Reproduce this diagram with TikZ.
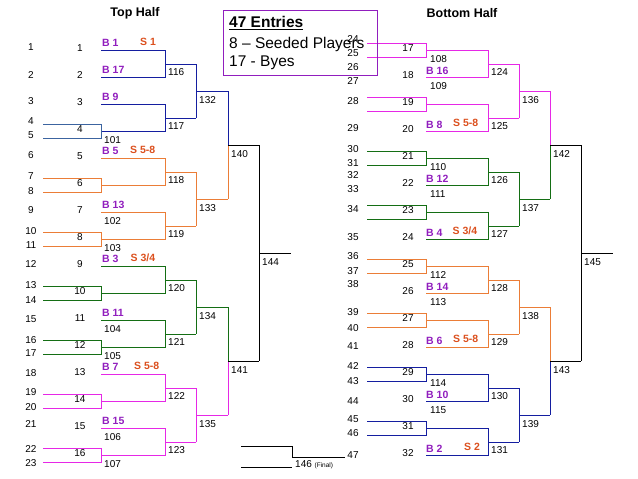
\documentclass[tikz,border=0pt]{standalone}
\usepackage{fontspec}
\setmainfont{Liberation Sans}
\begin{document}
\definecolor{kb}{RGB}{20,30,160}
\definecolor{kbb}{RGB}{60,100,160}
\definecolor{ko}{RGB}{235,125,55}
\definecolor{kg}{RGB}{20,110,20}
\definecolor{km}{RGB}{230,40,230}
\definecolor{kp}{RGB}{145,30,190}
\definecolor{ks}{RGB}{220,80,30}
\begin{tikzpicture}[x=1pt,y=-1pt,
  lbl/.style={font=\fontsize{10}{11}\selectfont,inner sep=0pt},
  wl/.style={lbl,anchor=west},
  bl/.style={font=\fontsize{10.5}{11}\selectfont\bfseries,text=kp,inner sep=0pt,anchor=west},
  sl/.style={font=\fontsize{10.5}{11}\selectfont\bfseries,text=ks,inner sep=0pt},
  br/.style={line width=0.9pt}]
\useasboundingbox (0,0) rectangle (638,479);
\fill[white] (0,0) rectangle (638,479);
% titles
\node[font=\fontsize{12.5}{14}\selectfont\bfseries] (th) at (135,13) {Top Half};
\node[font=\fontsize{12.5}{14}\selectfont\bfseries] (bh) at (462,13) {Bottom Half};
\foreach \half/\xa/\xb/\xc/\xd/\xe/\xf/\cA/\cB/\cC/\cD in
  {0/101/165/196/228/259/291/kb/ko/kg/km, 1/426/488/519/550/581/613/km/kg/ko/kb}{
  \foreach \g/\col in {0/\cA,1/\cB,2/\cC,3/\cD}{
    \foreach \p in {0,1}{
      \pgfmathsetmacro\ya{50.7+27*(4*\g+2*\p)}
      \pgfmathsetmacro\yb{50.7+27*(4*\g+2*\p+1)}
      \pgfmathsetmacro\ym{(\ya+\yb)/2}
      \draw[br,color=\col] (\xa,\ya) -- (\xb,\ya) -- (\xb,\yb) -- (\xa,\yb);
      \draw[br,color=\col] (\xb,\ym) -- (\xc,\ym);
    }
    \pgfmathsetmacro\ya{50.7+27*(4*\g+0.5)}
    \pgfmathsetmacro\yb{50.7+27*(4*\g+2.5)}
    \pgfmathsetmacro\ym{(\ya+\yb)/2}
    \draw[br,color=\col] (\xc,\ya) -- (\xc,\yb);
    \draw[br,color=\col] (\xc,\ym) -- (\xd,\ym);
  }
  \foreach \h/\ca/\cc in {0/\cA/\cB,1/\cC/\cD}{
    \pgfmathsetmacro\ya{50.7+27*(8*\h+1.5)}
    \pgfmathsetmacro\yb{50.7+27*(8*\h+5.5)}
    \pgfmathsetmacro\ym{(\ya+\yb)/2}
    \draw[br,color=\ca] (\xd,\ya) -- (\xd,\ym);
    \draw[br,color=\cc] (\xd,\ym) -- (\xd,\yb);
    \draw[br,black] (\xd,\ym) -- (\xe,\ym);
  }
  \pgfmathsetmacro\ya{50.7+27*3.5}
  \pgfmathsetmacro\yb{50.7+27*11.5}
  \pgfmathsetmacro\ym{(\ya+\yb)/2}
  \draw[br,black] (\xe,\ya) -- (\xe,\yb);
  \draw[br,black] (\xe,\ym) -- (\xf,\ym);
}
% pre-round brackets left
\foreach \k/\col in {3/kbb,5/ko,7/ko,9/kg,11/kg,13/km,15/km}{
  \pgfmathsetmacro\y{50.7+27*\k}
  \draw[br,color=\col] (43,\y-7) -- (101,\y-7) -- (101,\y+7) -- (43,\y+7);
}
% pre-round brackets right
\foreach \k/\col in {0/km,2/km,4/kg,6/kg,8/ko,10/ko,12/kb,14/kb}{
  \pgfmathsetmacro\y{50.7+27*\k}
  \draw[br,color=\col] (367,\y-7) -- (426,\y-7) -- (426,\y+7) -- (367,\y+7);
}
% slot numbers
\foreach \k in {1,...,16}{
  \pgfmathsetmacro\y{50.7+27*(\k-1)-3}
  \node[lbl] (sl\k) at (80,\y) {\k};
  \pgfmathtruncatemacro\r{\k+16}
  \node[lbl] (sr\k) at (408,\y) {\r};
}
% entry numbers
\foreach \n/\y in {1/46.7,2/74.7,3/101,4/121,5/135,6/155.3,7/175.7,8/191.3,9/210,10/231,11/245,12/264,13/284.7,14/299.7,15/318.7,16/339.7,17/353.3,18/373,19/391.7,20/406.7,21/424,22/448.7,23/462.7}{
  \node[lbl] (e\n) at (31,\y) {\n};}
\foreach \n/\y in {24/39,25/53,26/66.7,27/81,28/101,29/128,30/148.7,31/163,32/175,33/189,34/209,35/236.7,36/256.3,37/271.3,38/284.3,39/312,40/327.7,41/346,42/365.7,43/380.7,44/400.7,45/418.7,46/433.3,47/455}{
  \node[lbl] (e\n) at (353,\y) {\n};}
% pre-round match numbers
\foreach \n/\k in {101/3,102/6,103/7,104/10,105/11,106/14,107/15}{
  \pgfmathsetmacro\y{50.7+27*\k+8}
  \node[wl] (m\n) at (104,\y) {\n};}
\foreach \n/\k in {108/0,109/1,110/4,111/5,112/8,113/9,114/12,115/13}{
  \pgfmathsetmacro\y{50.7+27*\k+8}
  \node[wl] (m\n) at (430,\y) {\n};}
% round numbers
\foreach \i in {0,...,7}{
  \pgfmathsetmacro\y{50.7+27*(2*\i+0.5)+8}
  \pgfmathtruncatemacro\a{116+\i}
  \pgfmathtruncatemacro\b{124+\i}
  \node[wl] (m\a) at (168,\y) {\a};
  \node[wl] (m\b) at (491,\y) {\b};}
\foreach \i in {0,...,3}{
  \pgfmathsetmacro\y{50.7+27*(4*\i+1.5)+9}
  \pgfmathtruncatemacro\a{132+\i}
  \pgfmathtruncatemacro\b{136+\i}
  \node[wl] (m\a) at (199,\y) {\a};
  \node[wl] (m\b) at (522,\y) {\b};}
\foreach \i in {0,1}{
  \pgfmathsetmacro\y{50.7+27*(8*\i+3.5)+9}
  \pgfmathtruncatemacro\a{140+\i}
  \pgfmathtruncatemacro\b{142+\i}
  \node[wl] (m\a) at (231,\y) {\a};
  \node[wl] (m\b) at (553,\y) {\b};}
\node[wl] (m144) at (262,262.5) {144};
\node[wl] (m145) at (584,262.5) {145};
% byes and seeds
\foreach \t/\k in {B 1/0,B 17/1,B 9/2,B 5/4,B 13/6,B 3/8,B 11/10,B 7/12,B 15/14}{
  \pgfmathsetmacro\y{50.7+27*\k-8}
  \node[bl] at (102,\y) {\t};}
\foreach \t/\k in {B 16/1,B 8/3,B 12/5,B 4/7,B 14/9,B 6/11,B 10/13,B 2/15}{
  \pgfmathsetmacro\y{50.7+27*\k-7}
  \node[bl] at (426,\y) {\t};}
\foreach \t/\x/\k in {{S 1}/148/0,{S 5-8}/142.7/4,{S 3/4}/143/8,{S 5-8}/146.7/12,{S 5-8}/465.7/3,{S 3/4}/465/7,{S 5-8}/465.7/11,{S 2}/472/15}{
  \pgfmathsetmacro\y{50.7+27*\k-9}
  \node[sl] at (\x,\y) {\t};}
% final
\coordinate (f1) at (241,446.7);
\coordinate (f2) at (241,467.7);
\draw[line width=0.8pt] (f1) -- (292,446.7) -- (292,457) -- (345,457);
\draw[line width=0.8pt] (f2) -- (292,467.7);
\node[wl] (m146) at (295,465) {146 {\fontsize{6.5}{8}\selectfont(Final)}};
% info box
\draw[kp,line width=0.8pt] (223,10) rectangle (377,75);
\node[anchor=west,inner sep=0pt,font=\fontsize{15.5}{17}\selectfont\bfseries] (ib1) at (229,23) {\underline{47 Entries}};
\node[anchor=west,inner sep=0pt,font=\fontsize{15.5}{17}\selectfont] (ib2) at (229,44) {8 – Seeded Players};
\node[anchor=west,inner sep=0pt,font=\fontsize{15.5}{17}\selectfont] (ib3) at (229,63) {17 - Byes};
\end{tikzpicture}
\end{document}
